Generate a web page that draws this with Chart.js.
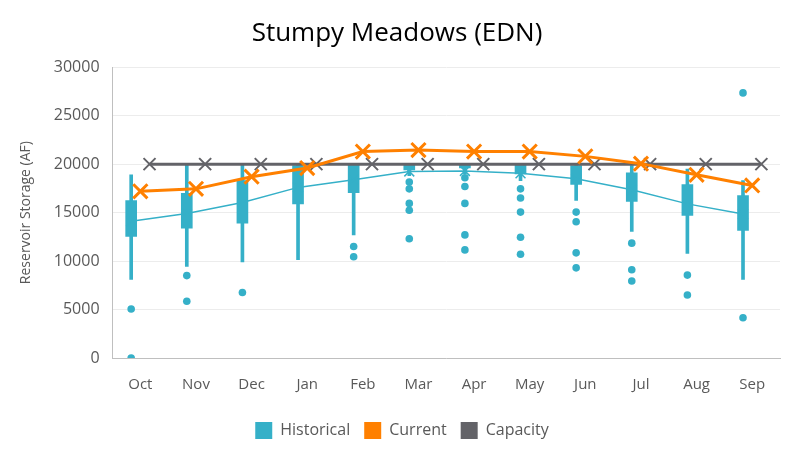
<!DOCTYPE html>
<html>
<head>
<meta charset="utf-8">
<script src="https://cdn.jsdelivr.net/npm/chart.js@4"></script>
<style>
  body { margin: 0; background: #fff; }
  .chart-box { width: 797px; height: 466px; }
</style>
</head>
<body>
<div class="chart-box"><canvas id="myChart"></canvas></div>
<script>
const months = ['Oct', 'Nov', 'Dec', 'Jan', 'Feb', 'Mar', 'Apr', 'May', 'Jun', 'Jul', 'Aug', 'Sep'];

// historical box plot per month (AF)
const histLow = [8100, 9450, 9900, 10150, 12700, 18800, 19000, 18300, 16250, 13050, 10800, 8100];
const histQ1 = [12550, 13400, 13900, 15900, 17050, 19400, 19600, 19000, 17900, 16150, 14700, 13150];
const histQ3 = [16250, 17000, 18300, 19850, 19900, 19900, 19900, 19900, 19850, 19100, 17900, 16750];
const histHigh = [18900, 19900, 19900, 19900, 19900, 19900, 19900, 19900, 19900, 19850, 19500, 18300];
const histMean = [14100, 14900, 16050, 17600, 18400, 19250, 19300, 19050, 18500, 17350, 15900, 14850];
const histOutliers = [
  [5050, 0],
  [8500, 5850],
  [6750],
  [],
  [11500, 10450],
  [18150, 17450, 15950, 15250, 12300],
  [18600, 17700, 15950, 12700, 11150],
  [17450, 16500, 15050, 12450, 10700],
  [15050, 14050, 10850, 9300],
  [11850, 9100, 7950],
  [8550, 6500],
  [27350, 4150]
];

const current = [17200, 17450, 18700, 19600, 21300, 21450, 21300, 21300, 20800, 20050, 18900, 17800];
const capacity = [20000, 20000, 20000, 20000, 20000, 20000, 20000, 20000, 20000, 20000, 20000, 20000];

const blauw = '#35b0c8';
const oranje = '#ff8000';
const grijs = '#636368';
const links = -0.165;
const rechts = 0.165;

const punten = function (arr, shift) {
  return arr.map((v, i) => ({ x: i + shift, y: v }));
};

const uitschieters = [];
histOutliers.forEach((lijst, i) => {
  for (const v of lijst) uitschieters.push({ x: i + links, y: v });
});

// schuif de legenda een paar pixels naar rechts
const legendaSchuif = {
  id: 'legendaSchuif',
  afterLayout: function (chart) {
    chart.legend.left += 5;
    chart.legend.right += 5;
  },
};

const ctx = document.getElementById('myChart');

new Chart(ctx, {
  data: {
    datasets: [
      {
        type: 'line',
        label: 'Current',
        data: punten(current, 0),
        borderColor: oranje,
        backgroundColor: oranje,
        borderWidth: 3,
        pointStyle: 'crossRot',
        pointRadius: 10,
        pointBorderWidth: 3,
        pointBorderColor: oranje,
      },
      {
        type: 'line',
        label: 'Capacity',
        data: punten(capacity, rechts),
        borderColor: grijs,
        backgroundColor: grijs,
        borderWidth: 3,
        pointStyle: 'crossRot',
        pointRadius: 8.5,
        pointBorderWidth: 2,
        pointBorderColor: grijs,
      },
      {
        type: 'line',
        label: 'mean',
        data: punten(histMean, links),
        borderColor: blauw,
        backgroundColor: blauw,
        borderWidth: 1.5,
        pointStyle: 'crossRot',
        pointRadius: 7,
        pointBorderWidth: 1.5,
        pointBorderColor: blauw,
      },
      {
        type: 'scatter',
        label: 'outliers',
        data: uitschieters,
        backgroundColor: blauw,
        borderColor: blauw,
        pointRadius: 3.8,
        pointBorderWidth: 0,
      },
      {
        type: 'bar',
        label: 'Historical',
        data: histQ1.map((q, i) => ({ x: i + links, y: [q, histQ3[i]] })),
        backgroundColor: blauw,
        barThickness: 11,
        grouped: false,
      },
      {
        type: 'bar',
        label: 'whiskers',
        data: histLow.map((lo, i) => ({ x: i + links, y: [lo, histHigh[i]] })),
        backgroundColor: blauw,
        barThickness: 3,
        grouped: false,
      },
    ],
  },
  plugins: [legendaSchuif],
  options: {
    responsive: true,
    maintainAspectRatio: false,
    animation: false,
    layout: { padding: { left: 14, right: 17, top: 10, bottom: 17 } },
    plugins: {
      title: {
        display: true,
        text: 'Stumpy Meadows (EDN)',
        color: '#000',
        font: { family: 'Open Sans', size: 26, weight: 'normal' },
        padding: { top: 8, bottom: 18 },
      },
      legend: {
        position: 'bottom',
        labels: {
          color: '#595959',
          font: { family: 'Open Sans', size: 16 },
          boxWidth: 17,
          boxHeight: 17,
          padding: 14,
          generateLabels: function () {
            return [
              { text: 'Historical', fillStyle: blauw, strokeStyle: blauw, lineWidth: 0, fontColor: '#595959' },
              { text: 'Current', fillStyle: oranje, strokeStyle: oranje, lineWidth: 0, fontColor: '#595959' },
              { text: 'Capacity', fillStyle: grijs, strokeStyle: grijs, lineWidth: 0, fontColor: '#595959' },
            ];
          },
        },
        onClick: function () {},
      },
      tooltip: { enabled: false },
    },
    scales: {
      x: {
        type: 'linear',
        offset: false,
        min: -0.5,
        max: 11.5,
        afterBuildTicks: function (scale) {
          scale.ticks = months.map((m, i) => ({ value: i }));
        },
        afterFit: function (scale) {
          scale.height += 4;
        },
        ticks: {
          color: '#595959',
          font: { family: 'Open Sans', size: 15 },
          padding: 10,
          callback: function (v) {
            return months[v];
          },
        },
        grid: { display: false, offset: false },
        border: { color: '#bfbfbf', width: 1 },
      },
      y: {
        min: 0,
        max: 30000,
        ticks: {
          stepSize: 5000,
          color: '#595959',
          font: { family: 'Open Sans', size: 16 },
          padding: 13,
          callback: function (v) {
            return String(v);
          },
        },
        grid: { color: '#ececec', drawTicks: false },
        border: { color: '#bfbfbf', width: 1 },
        title: {
          display: true,
          text: 'Reservoir Storage (AF)',
          color: '#595959',
          font: { family: 'Open Sans', size: 14 },
          padding: { bottom: 6 },
        },
      },
    },
  },
});
</script>
</body>
</html>
